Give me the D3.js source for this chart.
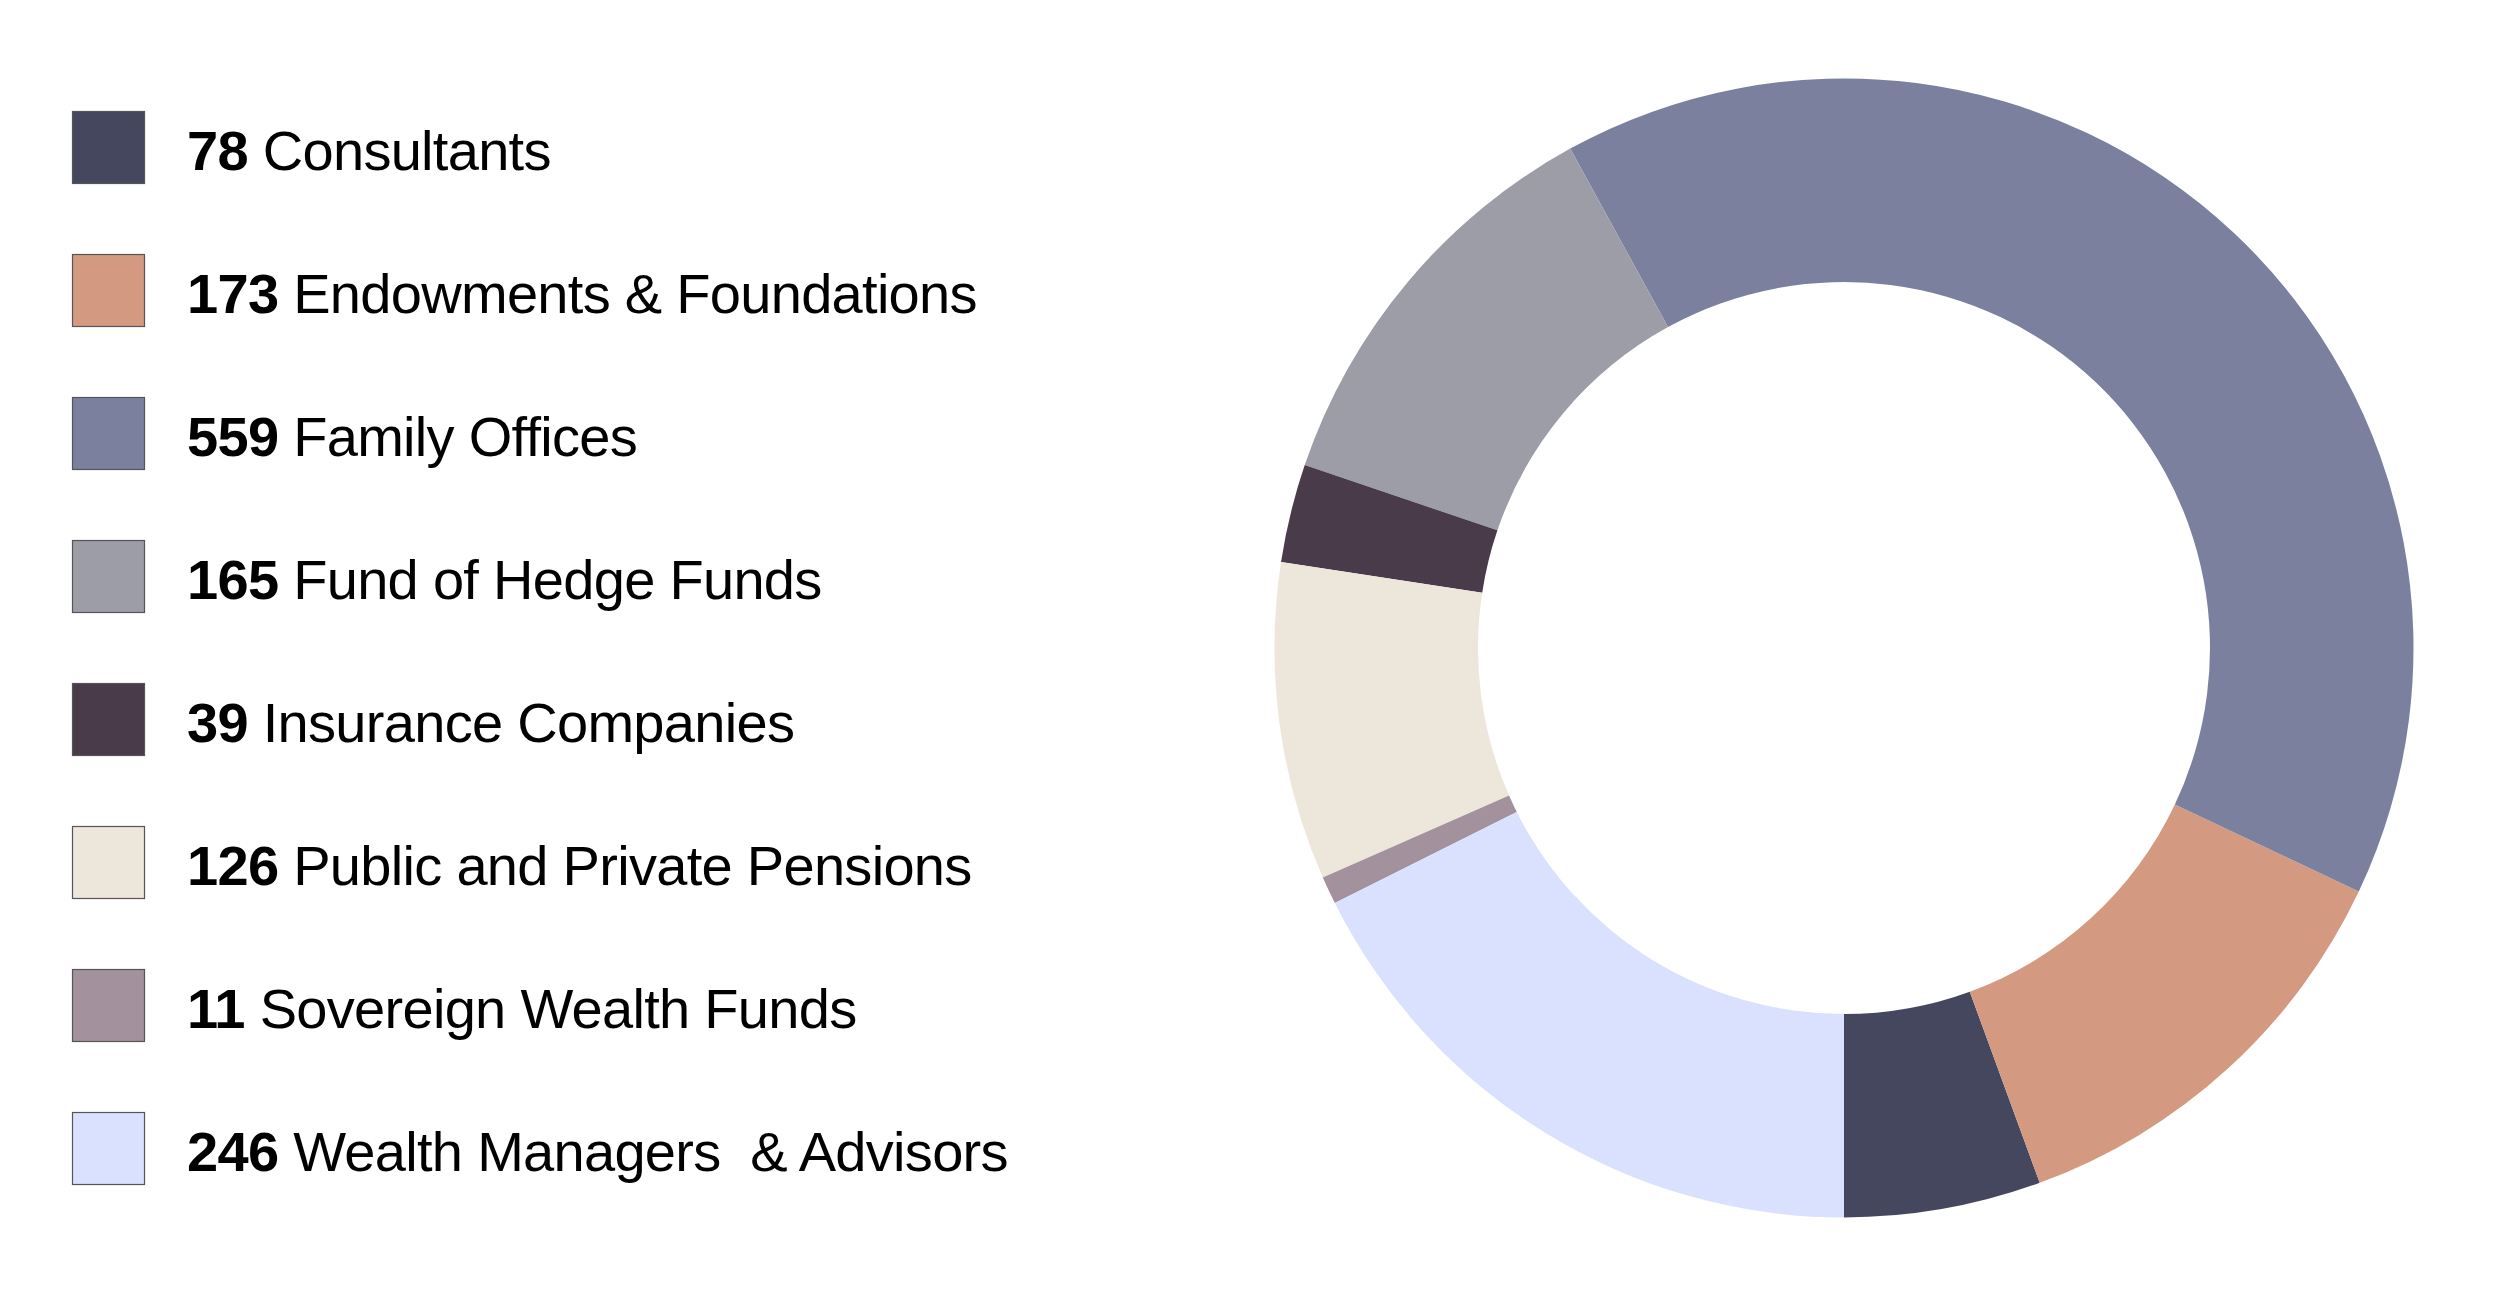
<!DOCTYPE html>
<html>
<head>
<meta charset="utf-8">
<script src="https://cdn.jsdelivr.net/npm/d3@7"></script>
<style>
  body { margin: 0; background: #fff; }
  svg { display: block; }
</style>
</head>
<body>
<svg class="chart"></svg>
<script>
// investor types, counts, fill colours (legend order = slice order)
const categories = ["Consultants", "Endowments & Foundations", "Family Offices", "Fund of Hedge Funds",
  "Insurance Companies", "Public and Private Pensions", "Sovereign Wealth Funds", "Wealth Managers  & Advisors"]
const counts = [78, 173, 559, 165, 39, 126, 11, 246]
const colors = ["#45475e", "#d49a81", "#7a809e", "#9c9da6", "#4a3b4a", "#ede6db", "#a3919e", "#dae1fe"]

const width = 2500, height = 1296

const svg = d3.select(".chart")
    .attr("width", width)
    .attr("height", height)
    .style("font-family", "'Liberation Sans', Arial, sans-serif")

svg.append("rect").attr("width", width).attr("height", height).attr("fill", "#fff")

const data = categories.map((name, i) => ({ name, value: counts[i], color: colors[i] }))

// donut: starts at 6 o'clock and runs counter-clockwise
const pie = d3.pie()
    .sort(null)
    .value(d => d.value)
    .startAngle(Math.PI)
    .endAngle(-Math.PI)

const arc = d3.arc()
    .innerRadius(366)
    .outerRadius(569.5)

const g = svg.append("g")
    .attr("transform", "translate(1844,648)")

g.selectAll("path")
  .data(pie(data))
  .join("path")
    .attr("fill", d => d.data.color)
    .attr("d", arc)

// legend
const y = d3.scaleBand()
    .domain(categories)
    .range([111.5, 111.5 + 143 * categories.length])
    .paddingInner(0)

const legend = svg.append("g")
  .selectAll("g")
  .data(data)
  .join("g")
    .attr("transform", d => `translate(0,${y(d.name)})`)

legend.append("rect")
    .attr("x", 72.5)
    .attr("y", 0)
    .attr("width", 72)
    .attr("height", 72)
    .attr("fill", d => d.color)
    .attr("stroke", "#555")
    .attr("stroke-width", 1.2)

const label = legend.append("text")
    .attr("x", 187)
    .attr("y", 58.5)
    .attr("font-size", 56)
    .attr("letter-spacing", "-0.7px")
    .attr("fill", "#000")
    .style("white-space", "pre")

label.append("tspan")
    .attr("font-weight", "bold")
    .text(d => d.value)

label.append("tspan")
    .text(d => " " + d.name)
</script>
</body>
</html>
